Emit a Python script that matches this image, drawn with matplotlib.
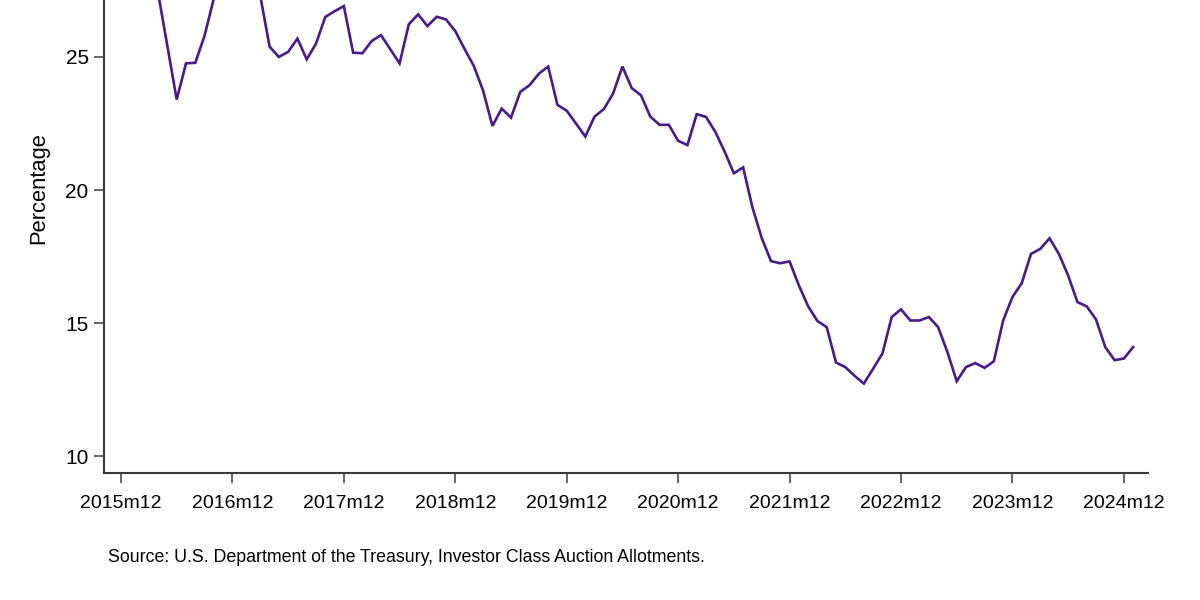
import matplotlib
matplotlib.use('Agg')
from matplotlib import pyplot as plt

plt.rcParams['font.family'] = ['Liberation Sans', 'DejaVu Sans']

# months counted from 2015m12 (= 0); series runs 2016m1 .. 2025m1
start_month = 1
# share of auction allotments, percent (first months sit above the visible frame)
share = [
    29.0, 30.5, 29.5, 27.4, 25.4, 23.4, 24.76, 24.78, 25.8, 27.2, 28.4, 29.0,
    28.7, 28.0, 27.3, 25.39, 25.0, 25.19, 25.69, 24.91, 25.5, 26.5, 26.72, 26.91,
    25.16, 25.14, 25.6, 25.82, 25.29, 24.76, 26.23, 26.6, 26.16, 26.51, 26.41, 25.97,
    25.3, 24.66, 23.73, 22.41, 23.06, 22.72, 23.69, 23.94, 24.37, 24.64, 23.2, 22.98,
    22.5, 22.01, 22.76, 23.04, 23.63, 24.64, 23.83, 23.56, 22.76, 22.45, 22.45, 21.85,
    21.69, 22.85, 22.75, 22.19, 21.45, 20.63, 20.85, 19.35, 18.2, 17.33, 17.25, 17.32,
    16.42, 15.63, 15.08, 14.85, 13.52, 13.35, 13.02, 12.73, 13.29, 13.86, 15.23, 15.52,
    15.1, 15.1, 15.23, 14.85, 13.91, 12.82, 13.35, 13.5, 13.32, 13.57, 15.1, 15.98,
    16.5, 17.6, 17.79, 18.19, 17.6, 16.79, 15.79, 15.63, 15.14, 14.1, 13.61, 13.67,
    14.1,
]
tick_years = [2015, 2016, 2017, 2018, 2019, 2020, 2021, 2022, 2023, 2024]
y_ticks = [10, 15, 20, 25]

months = list(range(start_month, start_month + len(share)))
tick_pos = [(y - 2015) * 12 for y in tick_years]
tick_labels = ['%dm12' % y for y in tick_years]

fig = plt.figure(figsize=(12, 6), dpi=100)
ax = fig.add_axes([104 / 1200, 1 - 473 / 600, 1044 / 1200, 473 / 600])

ax.plot(months, share, color='#4a1a8c', linewidth=1.9, solid_joinstyle='miter')

ax.set_xlim(-1.83, 110.6)
ax.set_ylim(9.37, 27.14)

for side in ['top', 'right']:
    ax.spines[side].set_visible(False)
for side in ['left', 'bottom']:
    ax.spines[side].set_color('#3a3a3a')
    ax.spines[side].set_linewidth(1.5)

ax.set_xticks(tick_pos)
ax.set_xticklabels(tick_labels)
ax.set_yticks(y_ticks)
ax.tick_params(axis='both', direction='out', length=7, width=1.1, color='#3a3a3a')
ax.tick_params(axis='x', labelsize=14, pad=8.5)
ax.tick_params(axis='y', labelsize=15, pad=4)

fig.text(39 / 1200, 1 - 188 / 600, 'Percentage', rotation=90,
         ha='center', va='center', fontsize=15.8)
fig.text(108 / 1200, 1 - 558 / 600,
         'Source: U.S. Department of the Treasury, Investor Class Auction Allotments.',
         ha='left', va='center', fontsize=12.8)

fig.savefig('out.png', dpi=100)
